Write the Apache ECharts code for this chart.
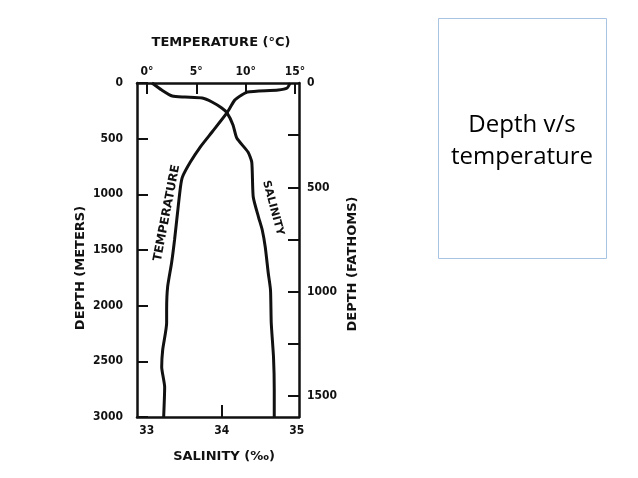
<!DOCTYPE html>
<html>
<head>
<meta charset="utf-8">
<script src="https://cdn.jsdelivr.net/npm/echarts@6/dist/echarts.min.js"></script>
<style>
  html, body { margin: 0; padding: 0; background: #fff; }
  #chart { width: 638px; height: 478px; }
</style>
</head>
<body>
<div id="chart"></div>
<script>
// depth in meters
const tempDepth = [0, 45, 63, 81, 108, 153, 269, 440, 575, 710, 844, 934, 1168, 1410, 1617, 1832, 2039, 2156, 2398, 2551, 2731, 3000];
const tempValue = [14.5, 14.2, 13.3, 10.2, 9.6, 8.9, 8.1, 6.6, 5.4, 4.4, 3.6, 3.4, 3.1, 2.8, 2.5, 2.1, 2.0, 2.0, 1.6, 1.5, 1.8, 1.7];

const salDepth = [0, 63, 117, 126, 135, 171, 225, 269, 377, 494, 620, 710, 1024, 1204, 1320, 1473, 1707, 1859, 2156, 2461, 2758, 3000];
const salValue = [33.07, 33.20, 33.34, 33.51, 33.74, 33.87, 34.00, 34.07, 34.15, 34.20, 34.35, 34.40, 34.42, 34.49, 34.54, 34.58, 34.62, 34.65, 34.66, 34.69, 34.70, 34.70];

const tempTicks = [0, 5, 10, 15];
const salTicks = [33, 34, 35];
const fathomTicks = [250, 500, 750, 1000, 1250, 1500];
const fathomLabels = [0, 500, 1000, 1500];

const ink = '#111';
const labelFont = { color: ink, fontFamily: 'DejaVu Sans Condensed', fontWeight: 'bold', fontSize: 12 };
const nameFont = 'bold 13px "DejaVu Sans"';
const plain = v => String(v);

const myChart = echarts.init(document.getElementById('chart'));

myChart.setOption({
  animation: false,
  backgroundColor: '#fff',
  grid: { left: 137, top: 83, width: 162, height: 334 },
  xAxis: [
    {
      // temperature, top
      type: 'value', position: 'top', min: -1, max: 15.4,
      axisLine: { onZero: false, lineStyle: { color: ink, width: 2.5 } },
      axisTick: { inside: true, length: 11, customValues: tempTicks, lineStyle: { color: ink, width: 2 } },
      axisLabel: Object.assign({ customValues: tempTicks, formatter: '{value}°', margin: 5 }, labelFont),
      splitLine: { show: false }
    },
    {
      // salinity, bottom
      type: 'value', position: 'bottom', min: 32.87, max: 35.03,
      axisLine: { onZero: false, lineStyle: { color: ink, width: 2.5 } },
      axisTick: { inside: true, length: 12, customValues: [34], lineStyle: { color: ink, width: 2 } },
      axisLabel: Object.assign({ customValues: salTicks, formatter: plain, margin: 8 }, labelFont),
      splitLine: { show: false }
    }
  ],
  yAxis: [
    {
      type: 'value', position: 'left', inverse: true, min: 0, max: 3000, interval: 500,
      axisLine: { onZero: false, lineStyle: { color: ink, width: 2.5 } },
      axisTick: { inside: true, length: 11, lineStyle: { color: ink, width: 2 } },
      axisLabel: Object.assign({ formatter: plain, margin: 14 }, labelFont),
      splitLine: { show: false }
    },
    {
      type: 'value', position: 'right', inverse: true, min: 0, max: 1600,
      axisLine: { onZero: false, lineStyle: { color: ink, width: 2.5 } },
      axisTick: { inside: true, length: 11, customValues: fathomTicks, lineStyle: { color: ink, width: 2 } },
      axisLabel: Object.assign({ customValues: fathomLabels, formatter: plain, margin: 8 }, labelFont),
      splitLine: { show: false }
    }
  ],
  series: [
    {
      name: 'Temperature', type: 'line', xAxisIndex: 0, yAxisIndex: 0,
      data: tempValue.map((v, i) => [v, tempDepth[i]]),
      smooth: 0.2, showSymbol: false,
      lineStyle: { color: ink, width: 3 }
    },
    {
      name: 'Salinity', type: 'line', xAxisIndex: 1, yAxisIndex: 0,
      data: salValue.map((v, i) => [v, salDepth[i]]),
      smooth: 0.2, showSymbol: false,
      lineStyle: { color: ink, width: 3 }
    }
  ],
  graphic: [
    { type: 'text', x: 221, y: 43, style: { text: 'TEMPERATURE (°C)', align: 'center', verticalAlign: 'middle', fill: ink, font: nameFont } },
    { type: 'text', x: 224, y: 457, style: { text: 'SALINITY (‰)', align: 'center', verticalAlign: 'middle', fill: ink, font: nameFont } },
    { type: 'text', x: 81, y: 268, rotation: Math.PI / 2, style: { text: 'DEPTH (METERS)', align: 'center', verticalAlign: 'middle', fill: ink, font: nameFont } },
    { type: 'text', x: 353, y: 264, rotation: Math.PI / 2, style: { text: 'DEPTH (FATHOMS)', align: 'center', verticalAlign: 'middle', fill: ink, font: nameFont } },
    { type: 'text', x: 167, y: 213, rotation: 1.38, style: { text: 'TEMPERATURE', align: 'center', verticalAlign: 'middle', fill: ink, font: 'bold 12px "DejaVu Sans"' } },
    { type: 'text', x: 273, y: 208, rotation: -1.31, style: { text: 'SALINITY', align: 'center', verticalAlign: 'middle', fill: ink, font: 'bold 11px "DejaVu Sans"' } },
    { type: 'rect', shape: { x: 438.5, y: 18.5, width: 168, height: 240 }, style: { fill: 'none', stroke: '#a9c3e3', lineWidth: 1 } },
    { type: 'text', x: 522, y: 125, style: { text: 'Depth v/s', align: 'center', verticalAlign: 'middle', fill: '#000', font: '24px "Open Sans"' } },
    { type: 'text', x: 522, y: 157, style: { text: 'temperature', align: 'center', verticalAlign: 'middle', fill: '#000', font: '24px "Open Sans"' } }
  ]
});
</script>
</body>
</html>
